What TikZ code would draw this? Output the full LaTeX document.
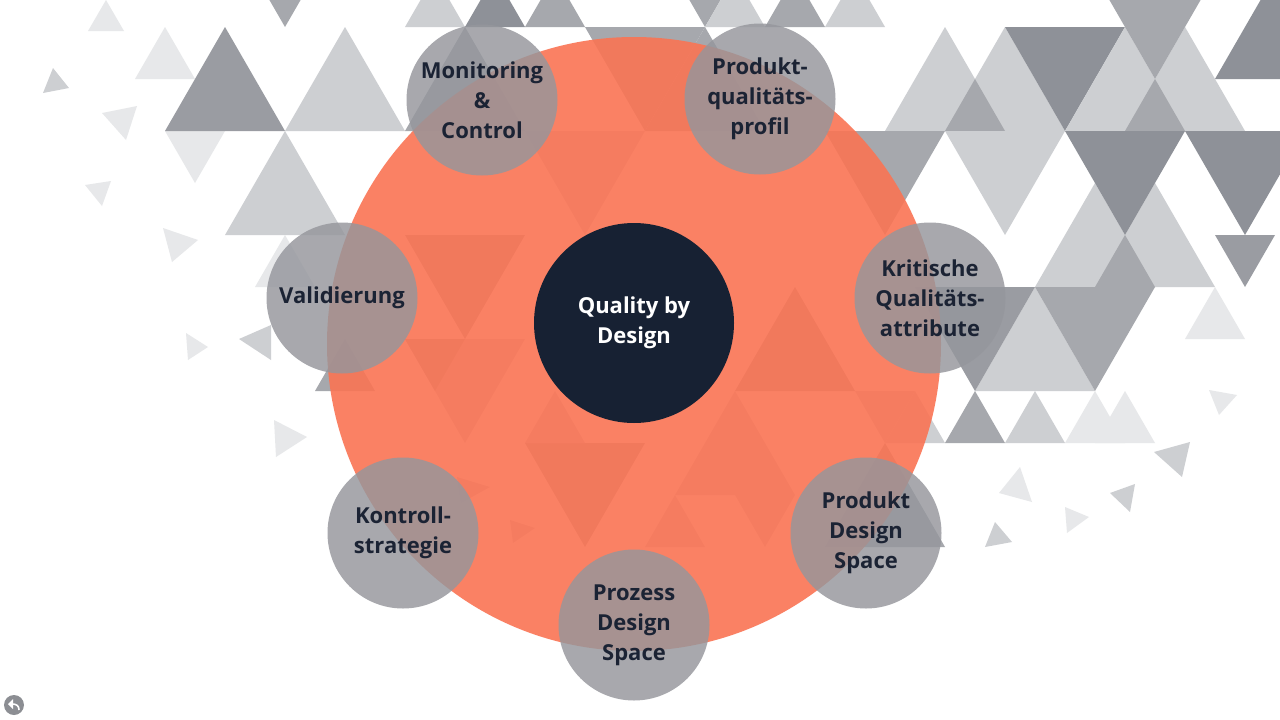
\documentclass[tikz,border=0pt]{standalone}
\usepackage{fontspec}
\setmainfont{Open Sans}
\definecolor{tdark}{HTML}{8E9198}
\definecolor{tmdark}{HTML}{9A9CA2}
\definecolor{tmid}{HTML}{A6A8AD}
\definecolor{tlight}{HTML}{CDCFD2}
\definecolor{tvlight}{HTML}{E7E8EA}
\definecolor{qorange}{RGB}{250,116,84}
\definecolor{qnavy}{HTML}{172133}
\definecolor{qgray}{RGB}{149,150,156}
\definecolor{qtext}{HTML}{1B2334}
\definecolor{qicon}{HTML}{8C8E93}
\newcommand\bgtri[4]{\fill[#1] #2 -- #3 -- #4 -- cycle;}
\tikzset{
  orangedisk/.style={circle, fill=qorange, fill opacity=0.9, minimum size=614pt, inner sep=0pt},
  hub/.style={circle, fill=qnavy, minimum size=200pt, inner sep=0pt, text=white, align=center,
    font=\bfseries\fontsize{22pt}{30pt}\selectfont},
  topic/.style={circle, fill=qgray, fill opacity=0.82, text opacity=1, minimum size=151pt, inner sep=0pt,
    text=qtext, align=center, font=\bfseries\fontsize{22pt}{30pt}\selectfont},
  iconbtn/.style={circle, fill=qicon, minimum size=20pt, inner sep=0pt}
}
\begin{document}
\begin{tikzpicture}[x=1pt,y=-1pt]
\useasboundingbox (0,0) rectangle (1280,720);
\clip (0,0) rectangle (1280,720);
\fill[white] (0,0) rectangle (1280,720);
% ---- background triangles: left scatter
\bgtri{tvlight}{(88,31)}{(124,31)}{(106,0)}
\bgtri{tvlight}{(135,79)}{(195,79)}{(165,27)}
\bgtri{tlight}{(43,93)}{(69,88)}{(53,68)}
\bgtri{tvlight}{(102,113)}{(137,106)}{(126,140)}
\bgtri{tvlight}{(85,185)}{(111,181)}{(102,206)}
\bgtri{tvlight}{(163,228)}{(198,240)}{(172,262)}
\bgtri{tvlight}{(186,333)}{(208,347)}{(188,360)}
\bgtri{tlight}{(239,339)}{(271,325)}{(271,360)}
\bgtri{tvlight}{(274,420)}{(307,437)}{(276,457)}
\bgtri{tvlight}{(255,287)}{(315,287)}{(285,235)}
% left big
\bgtri{tvlight}{(165,131)}{(225,131)}{(195,183)}
\bgtri{tmdark}{(165,131)}{(285,131)}{(225,27)}
\bgtri{tlight}{(285,131)}{(405,131)}{(345,27)}
\bgtri{tmid}{(405,131)}{(525,131)}{(465,27)}
\bgtri{tlight}{(225,235)}{(345,235)}{(285,131)}
\bgtri{tmid}{(315,391)}{(375,391)}{(345,339)}
% top band
\bgtri{tmid}{(255,-25)}{(315,-25)}{(285,27)}
\bgtri{tlight}{(405,27)}{(465,27)}{(435,-25)}
\bgtri{tdark}{(465,27)}{(525,27)}{(495,-25)}
\bgtri{tmid}{(525,27)}{(585,27)}{(555,-25)}
\bgtri{tmid}{(675,-25)}{(735,-25)}{(705,27)}
\bgtri{tlight}{(705,27)}{(765,27)}{(735,-25)}
\bgtri{tmid}{(765,27)}{(825,27)}{(795,-25)}
\bgtri{tlight}{(825,27)}{(885,27)}{(855,-25)}
\bgtri{tmid}{(585,27)}{(705,27)}{(645,131)}
\bgtri{tmid}{(645,131)}{(765,131)}{(705,27)}
% right group
\bgtri{tlight}{(885,131)}{(1005,131)}{(945,27)}
\bgtri{tlight}{(945,131)}{(1065,131)}{(1005,27)}
\bgtri{tmid}{(945,131)}{(1005,131)}{(975,79)}
\bgtri{tdark}{(1005,27)}{(1125,27)}{(1065,131)}
\bgtri{tlight}{(1065,131)}{(1185,131)}{(1125,27)}
\bgtri{tlight}{(1125,131)}{(1245,131)}{(1185,27)}
\bgtri{tmid}{(1125,131)}{(1185,131)}{(1155,79)}
\bgtri{tmid}{(1095,-25)}{(1215,-25)}{(1155,79)}
\bgtri{tdark}{(1215,79)}{(1335,79)}{(1275,-25)}
\bgtri{tmid}{(825,131)}{(945,131)}{(885,235)}
\bgtri{tlight}{(945,131)}{(1065,131)}{(1005,235)}
\bgtri{tlight}{(1035,287)}{(1155,287)}{(1095,183)}
\bgtri{tlight}{(1095,287)}{(1215,287)}{(1155,183)}
\bgtri{tmid}{(1095,287)}{(1155,287)}{(1125,235)}
\bgtri{tdark}{(1065,131)}{(1185,131)}{(1125,235)}
\bgtri{tdark}{(1185,131)}{(1305,131)}{(1245,235)}
\bgtri{tmdark}{(1215,235)}{(1275,235)}{(1245,287)}
\bgtri{tlight}{(975,391)}{(1095,391)}{(1035,287)}
\bgtri{tmdark}{(915,287)}{(1035,287)}{(975,391)}
\bgtri{tmid}{(1035,287)}{(1155,287)}{(1095,391)}
\bgtri{tvlight}{(1185,339)}{(1245,339)}{(1215,287)}
\bgtri{tlight}{(885,443)}{(945,443)}{(915,391)}
\bgtri{tmid}{(945,443)}{(1005,443)}{(975,391)}
\bgtri{tlight}{(1005,443)}{(1065,443)}{(1035,391)}
\bgtri{tvlight}{(1065,443)}{(1125,443)}{(1095,391)}
\bgtri{tvlight}{(1095,443)}{(1155,443)}{(1125,391)}
\bgtri{tmid}{(825,547)}{(945,547)}{(885,443)}
% right scatter
\bgtri{tvlight}{(1209,390)}{(1237,395)}{(1219,415)}
\bgtri{tlight}{(1154,452)}{(1190,442)}{(1182,477)}
\bgtri{tvlight}{(999,493)}{(1020,467)}{(1032,502)}
\bgtri{tlight}{(1110,493)}{(1135,484)}{(1130,512)}
\bgtri{tvlight}{(1065,507)}{(1089,517)}{(1067,533)}
\bgtri{tlight}{(985,547)}{(995,522)}{(1012,542)}
% under the orange disk
\bgtri{tmid}{(405,235)}{(525,235)}{(465,339)}
\bgtri{tlight}{(405,339)}{(525,339)}{(465,443)}
\bgtri{tmid}{(405,339)}{(465,339)}{(435,391)}
\bgtri{tmid}{(525,443)}{(645,443)}{(585,547)}
\bgtri{tlight}{(525,443)}{(585,443)}{(555,391)}
\bgtri{tmid}{(735,391)}{(855,391)}{(795,287)}
\bgtri{tlight}{(675,495)}{(795,495)}{(735,391)}
\bgtri{tlight}{(645,547)}{(705,547)}{(675,495)}
\bgtri{tlight}{(735,495)}{(795,495)}{(765,547)}
\bgtri{tlight}{(510,520)}{(535,528)}{(513,543)}
\bgtri{tlight}{(457,477)}{(490,487)}{(461,503)}
\bgtri{tlight}{(525,131)}{(645,131)}{(585,235)}
\bgtri{tlight}{(855,391)}{(915,391)}{(885,443)}
% ---- main shapes
\node[orangedisk] (disk) at (634,344) {};
\node[hub] (hub) at (634,323) {Quality by\\Design};
\node[topic] (mon) at (482,100) {Monitoring\\\&\\Control};
\node[topic] (pqp) at (760,99) {Produkt-\\qualitäts-\\profil};
\node[topic] (kqa) at (930,298) {Kritische\\Qualitäts-\\attribute};
\node[topic] (pds) at (866,533) {Produkt\\Design\\Space};
\node[topic] (prds) at (634,625) {Prozess\\Design\\Space};
\node[topic] (ks) at (403,533) {Kontroll-\\strategie};
\node[topic] (val) at (342,298) {Validierung};
% ---- back icon
\node[iconbtn] (back) at (14,705) {};
\draw[white, line width=1.6pt] ([shift={(-2,-1)}]back.center) .. controls ([shift={(3,-1)}]back.center) and ([shift={(5,1)}]back.center) .. ([shift={(5,5)}]back.center);
\fill[white] ([shift={(-6,-1)}]back.center) -- ([shift={(-1,-6)}]back.center) -- ([shift={(-1,4)}]back.center) -- cycle;
\end{tikzpicture}
\end{document}
